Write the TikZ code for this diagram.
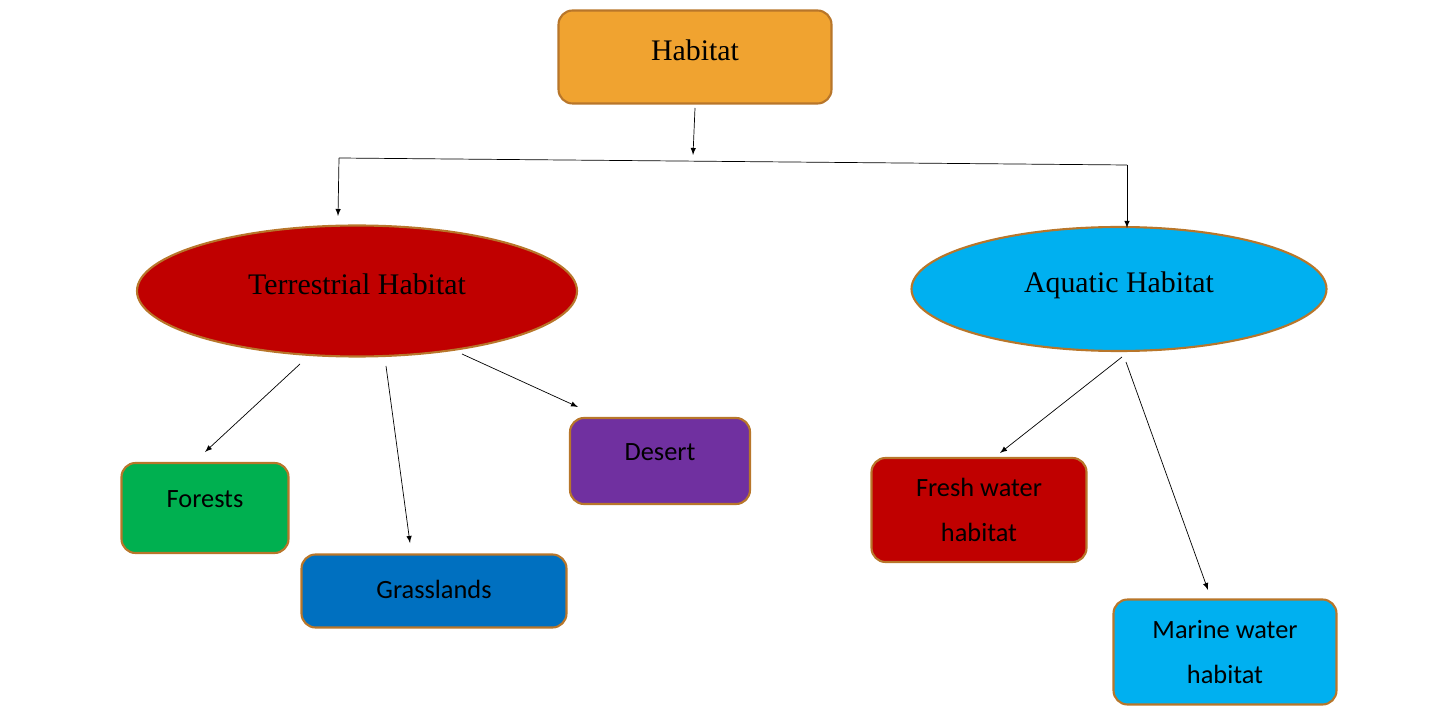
\documentclass[tikz,border=0pt]{standalone}
\usepackage{fontspec}
\setmainfont{Liberation Serif}
\newfontfamily\boxfont{Carlito}
\usetikzlibrary{shapes.geometric}
\definecolor{hborder}{HTML}{B8762A}
\definecolor{horange}{HTML}{F0A330}
\definecolor{hred}{HTML}{C00000}
\definecolor{hsky}{HTML}{00B0F0}
\definecolor{hgreen}{HTML}{00B050}
\definecolor{hblue}{HTML}{0070C0}
\definecolor{hpurple}{HTML}{7030A0}
\tikzset{
  box/.style={draw=hborder,line width=1.2pt,rounded corners=8pt,font=\boxfont\fontsize{15}{26}\selectfont,align=center,inner sep=0pt},
  oval/.style={draw=hborder,line width=1.2pt,ellipse,inner sep=0pt,font=\fontsize{17}{20}\selectfont}
}
\begin{document}
\begin{tikzpicture}[x=0.02cm,y=-0.02cm,>=latex]
  \useasboundingbox (0,0) rectangle (1430,719);
  % Knoten
  \node[box,fill=horange,minimum width=273*0.02cm,minimum height=93*0.02cm,font=\fontsize{17}{20}\selectfont] (habitat) at (695,57) {\raisebox{8pt}{Habitat}};
  \node[oval,fill=hred,minimum width=440*0.02cm,minimum height=131*0.02cm] (terr) at (357,291) {\raisebox{8pt}{Terrestrial Habitat}};
  \node[oval,fill=hsky,minimum width=415*0.02cm,minimum height=124*0.02cm] (aqua) at (1119,289) {\raisebox{8pt}{Aquatic Habitat}};
  \node[box,fill=hgreen,minimum width=167*0.02cm,minimum height=90*0.02cm] (forests) at (205,508) {\raisebox{10pt}{Forests}};
  \node[box,fill=hblue,minimum width=265*0.02cm,minimum height=73*0.02cm] (grass) at (434,591) {\raisebox{2pt}{Grasslands}};
  \node[box,fill=hpurple,minimum width=180*0.02cm,minimum height=86*0.02cm] (desert) at (660,461) {\raisebox{10pt}{Desert}};
  \node[box,fill=hred,minimum width=215*0.02cm,minimum height=104*0.02cm] (fresh) at (979,510) {Fresh water\\habitat};
  \node[box,fill=hsky,minimum width=223*0.02cm,minimum height=105*0.02cm] (marine) at (1225,652) {Marine water\\habitat};
  % Verbindungen
  \coordinate (hs) at (695,108); \coordinate (he) at (693,155);
  \coordinate (bl) at (339,158); \coordinate (br) at (1127,165);
  \coordinate (tl) at (338,216); \coordinate (tr) at (1127,228);
  \draw[->] (hs) -- (he);
  \draw (bl) -- (br);
  \draw[->] (bl) -- (tl);
  \draw[->] (br) -- (tr);
  \draw[->] (300,364) -- (205,452);
  \draw[->] (386,366) -- (410,543);
  \draw[->] (462,354) -- (578,407);
  \draw[->] (1122,357) -- (1000,453);
  \draw[->] (1126,362) -- (1208,590);
\end{tikzpicture}
\end{document}
